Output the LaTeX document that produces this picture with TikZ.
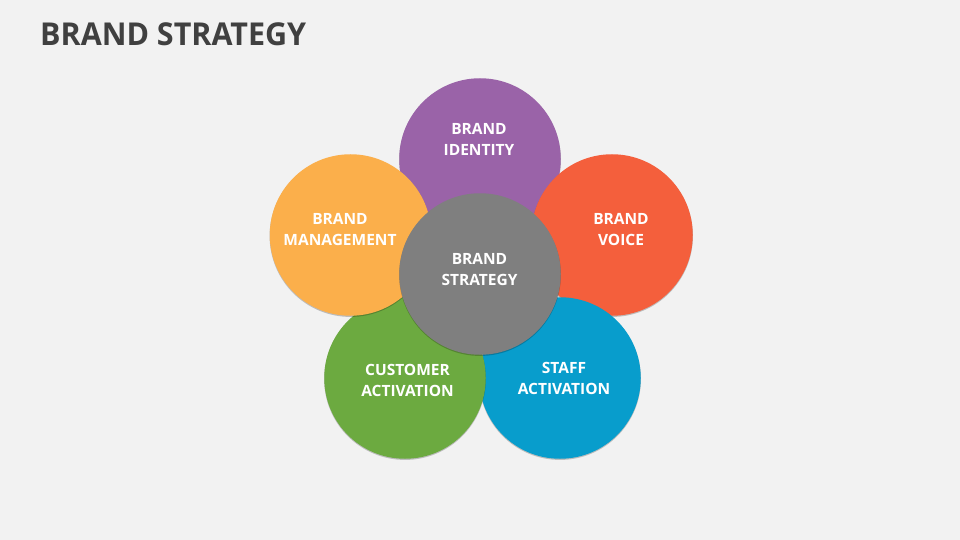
\documentclass[tikz,border=0pt]{standalone}
\usepackage{fontspec}
\usetikzlibrary{shadows}
\setmainfont{Open Sans}
\definecolor{bgc}{HTML}{F2F2F2}
\definecolor{titlec}{HTML}{404040}
\definecolor{purp}{HTML}{9A63A8}
\definecolor{oran}{HTML}{FBAF4B}
\definecolor{redc}{HTML}{F45F3C}
\definecolor{bluec}{HTML}{089DCC}
\definecolor{greenc}{HTML}{6CAA40}
\definecolor{grayc}{HTML}{7F7F7F}
\begin{document}
\begin{tikzpicture}[x=1pt,y=-1pt,
  petal/.style={circle,minimum size=161.5pt,inner sep=0pt,outer sep=0pt,fill=#1,
    general shadow={fill=black,opacity=.22,shadow yshift=-1pt,shadow scale=1.002}},
  lab/.style={text=white,font=\fontsize{15.5}{21}\selectfont\bfseries,align=center}]
\useasboundingbox[fill=bgc] (0,0) rectangle (960,540);
\node[anchor=west,text=titlec,font=\fontsize{31.5}{36}\selectfont\bfseries,inner sep=0pt,xscale=0.967] (title) at (40,34.5) {BRAND STRATEGY};
\node[petal=purp] (identity) at (480,159) {};
\node[petal=redc] (voice) at (612,235) {};
\node[petal=bluec] (staff) at (560,378) {};
\node[petal=greenc] (customer) at (405,378) {};
\node[petal=oran] (management) at (350.5,235) {};
\node[petal=grayc] (center) at (480,274) {};
\node[lab] (t1) at (479,139) {BRAND\\IDENTITY};
\node[lab] (t2) at (340,230) {BRAND\\MANAGEMENT};
\node[lab] (t3) at (621,230) {BRAND\\VOICE};
\node[lab] (t4) at (407.5,380) {CUSTOMER\\ACTIVATION};
\node[lab] (t5) at (564,378) {STAFF\\ACTIVATION};
\node[lab] (t6) at (479.5,270) {BRAND\\STRATEGY};
\end{tikzpicture}
\end{document}
